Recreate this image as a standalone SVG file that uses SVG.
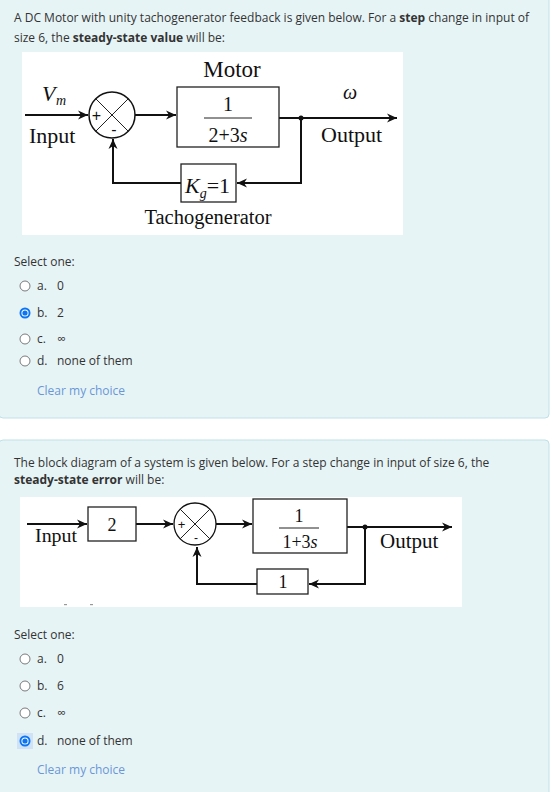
<svg xmlns="http://www.w3.org/2000/svg" width="553" height="792" viewBox="0 0 553 792">
<defs>
<style>
.panel{fill:#e7f4f6;stroke:#bfe0e7;stroke-width:1}
.body{font-family:"Open Sans","Liberation Sans",sans-serif;font-size:12px;fill:#333}
.b{font-weight:bold}
.link{font-family:"Open Sans","Liberation Sans",sans-serif;font-size:12px;fill:#6a97d6}
.tm{font-family:"Liberation Serif","Times New Roman",serif;fill:#111}
.it{font-style:italic}
.blk{fill:#fff;stroke:#222;stroke-width:1.3}
.wire{fill:none;stroke:#111;stroke-width:2}
.thin{fill:none;stroke:#222;stroke-width:1}
.rad{fill:#fff;stroke:#7a7a7a;stroke-width:1}
.sgn{font-family:"Liberation Sans",Arial,sans-serif;fill:#111}
</style>
<marker id="ah" viewBox="0 0 10 10" refX="10" refY="5" markerWidth="10" markerHeight="10" markerUnits="userSpaceOnUse" orient="auto">
<path d="M0,0.5 L10,5 L0,9.5 L3,5 Z" fill="#111"/>
</marker>
</defs>
<rect width="553" height="792" fill="#fff"/>
<rect class="panel" x="-1" y="-10" width="550" height="428" rx="4"/>
<rect class="panel" x="-1" y="440" width="550" height="370" rx="4"/>

<text class="body" x="14" y="22">A DC Motor with unity tachogenerator feedback is given below. For a <tspan class="b">step</tspan> change in input of</text>
<text class="body" x="14" y="42">size 6, the <tspan class="b">steady-state value</tspan> will be:</text>

<rect x="22" y="52" width="381" height="183" fill="#fff"/>
<g id="connectors1">
<path class="wire" d="M25,115 H88" marker-end="url(#ah)"/>
<path class="wire" d="M135,115 H176" marker-end="url(#ah)"/>
<path class="wire" d="M279,118 H397" marker-end="url(#ah)"/>
<path class="wire" d="M301,118 V183 H237" marker-end="url(#ah)"/>
<path class="wire" d="M181,183 H113 V139" marker-end="url(#ah)"/>
<circle cx="301" cy="118" r="2.5" fill="#111"/>
</g>
<g id="sum1">
<circle cx="112" cy="115" r="23" fill="#fff" stroke="#111" stroke-width="1.5"/>
<path class="thin" d="M95.7,98.7 L128.3,131.3 M128.3,98.7 L95.7,131.3" stroke-width="1.3"/>
<text class="sgn" x="96.5" y="120.5" font-size="16" text-anchor="middle">+</text>
<text class="sgn" x="114" y="135" font-size="16" text-anchor="middle">-</text>
</g>
<g id="motor">
<rect class="blk" x="177" y="87" width="102" height="60"/>
<text class="tm" x="228" y="111" font-size="20" text-anchor="middle">1</text>
<path class="thin" d="M204,118 H252"/>
<text class="tm" x="228" y="142" font-size="20" text-anchor="middle">2+3<tspan class="it">s</tspan></text>
<text class="tm" x="232" y="77" font-size="23" text-anchor="middle">Motor</text>
</g>
<g id="tacho">
<rect class="blk" x="181" y="164" width="55" height="38"/>
<text class="tm" x="185" y="193" font-size="22"><tspan class="it">K</tspan><tspan class="it" font-size="14" dy="5">g</tspan><tspan dy="-5">=1</tspan></text>
<text class="tm" x="208" y="224" font-size="20.5" text-anchor="middle">Tachogenerator</text>
</g>
<g id="labels1">
<text class="tm it" x="42" y="101" font-size="22">V</text>
<text class="tm it" x="56" y="105" font-size="14">m</text>
<text class="tm" x="29" y="143" font-size="22">Input</text>
<text class="tm it" x="350" y="99" font-size="20" text-anchor="middle">ω</text>
<text class="tm" x="321" y="142" font-size="22">Output</text>
</g>

<text class="body" x="14" y="266">Select one:</text>
<g id="opts1">
<circle class="rad" cx="25" cy="286" r="5"/>
<text class="body" x="37" y="290">a.</text><text class="body" x="57" y="290">0</text>
<circle cx="25" cy="313" r="5.5" fill="#0b75f5"/>
<circle cx="25" cy="313" r="3.6" fill="#fff"/>
<circle cx="25" cy="313" r="2.6" fill="#0b75f5"/>
<text class="body" x="37" y="317">b.</text><text class="body" x="57" y="317">2</text>
<circle class="rad" cx="25" cy="339" r="5"/>
<text class="body" x="37" y="343">c.</text><text class="body" x="57" y="343" font-size="11">∞</text>
<circle class="rad" cx="25" cy="361" r="5"/>
<text class="body" x="37" y="365">d.</text><text class="body" x="57" y="365">none of them</text>
<text class="link" x="37" y="395">Clear my choice</text>
</g>

<text class="body" x="14" y="467">The block diagram of a system is given below. For a step change in input of size 6, the</text>
<text class="body" x="14" y="484"><tspan class="b">steady-state error</tspan> will be:</text>

<rect x="20" y="497" width="442" height="110" fill="#fff"/>
<rect x="64" y="604" width="3" height="1.2" fill="#999"/>
<rect x="90" y="604" width="3" height="1.2" fill="#999"/>
<g id="connectors2">
<path class="wire" d="M27,524 H87" marker-end="url(#ah)"/>
<path class="wire" d="M136,524 H173" marker-end="url(#ah)"/>
<path class="wire" d="M216,524 H252" marker-end="url(#ah)"/>
<path class="wire" d="M347,527 H452" marker-end="url(#ah)"/>
<path class="wire" d="M365,527 V584 H309" marker-end="url(#ah)"/>
<path class="wire" d="M257,584 H197 V547" marker-end="url(#ah)"/>
<circle cx="365" cy="527" r="2.5" fill="#111"/>
</g>
<g id="gain2">
<rect class="blk" x="88" y="507" width="48" height="34"/>
<text class="tm" x="112" y="531" font-size="18" text-anchor="middle">2</text>
</g>
<g id="sum2">
<circle cx="195" cy="524" r="21" fill="#fff" stroke="#111" stroke-width="1.3"/>
<path class="thin" d="M180.2,509.2 L209.8,538.8 M209.8,509.2 L180.2,538.8"/>
<text class="sgn" x="181.5" y="528.5" font-size="13" text-anchor="middle">+</text>
<text class="sgn" x="196" y="542" font-size="12" text-anchor="middle">-</text>
</g>
<g id="plant2">
<rect class="blk" x="253" y="499" width="94" height="54"/>
<text class="tm" x="299" y="522" font-size="18" text-anchor="middle">1</text>
<path class="thin" d="M279,528 H319"/>
<text class="tm" x="300" y="548" font-size="18" text-anchor="middle">1+3<tspan class="it">s</tspan></text>
</g>
<g id="fb2">
<rect class="blk" x="257" y="569" width="51" height="25"/>
<text class="tm" x="283" y="588" font-size="18" text-anchor="middle">1</text>
</g>
<g id="labels2">
<text class="tm" x="35" y="542" font-size="19" textLength="42" lengthAdjust="spacingAndGlyphs">Input</text>
<text class="tm" x="380" y="548" font-size="21">Output</text>
</g>

<text class="body" x="14" y="639">Select one:</text>
<g id="opts2">
<circle class="rad" cx="25" cy="659" r="5"/>
<text class="body" x="37" y="663">a.</text><text class="body" x="57" y="663">0</text>
<circle class="rad" cx="25" cy="686" r="5"/>
<text class="body" x="37" y="690">b.</text><text class="body" x="57" y="690">6</text>
<circle class="rad" cx="25" cy="713" r="5"/>
<text class="body" x="37" y="717">c.</text><text class="body" x="57" y="717" font-size="11">∞</text>
<rect x="17" y="733" width="16" height="16" fill="#cfe2f6"/>
<circle cx="25" cy="741" r="5.5" fill="#0b75f5"/>
<circle cx="25" cy="741" r="3.6" fill="#fff"/>
<circle cx="25" cy="741" r="2.6" fill="#0b75f5"/>
<text class="body" x="37" y="745">d.</text><text class="body" x="57" y="745">none of them</text>
<text class="link" x="37" y="774">Clear my choice</text>
</g>
</svg>
